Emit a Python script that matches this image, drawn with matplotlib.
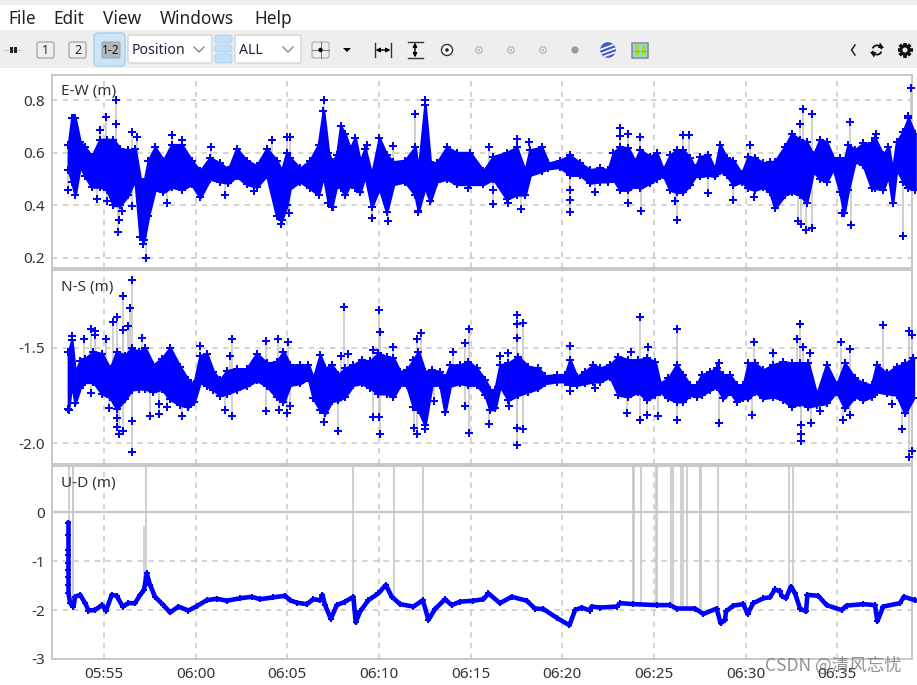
import numpy as np
import matplotlib
matplotlib.use("Agg")
import matplotlib.pyplot as plt
from matplotlib.patches import Rectangle, FancyBboxPatch, Circle, Wedge, Polygon

# ---- data (time in minutes after 05:00) ----
tick_minutes = [55, 60, 65, 70, 75, 80, 85, 90, 95]
tick_labels = ["05:55", "06:00", "06:05", "06:10", "06:15", "06:20", "06:25", "06:30", "06:35"]

ew_t = [53.06,53.24,53.42,53.69,53.97,54.33,54.78,55.15,55.51,55.88,56.33,56.69,56.97,57.18,57.42,57.78,58.24,58.69,59.24,59.78,60.24,60.78,61.33,61.78,62.24,62.78,63.33,63.88,64.42,64.69,64.97,
        65.15,65.7,66.24,66.7,66.97,67.24,67.42,67.7,67.91,68.15,68.42,68.7,68.97,69.24,69.6,70.02,70.42,70.79,71.42,71.97,72.15,72.51,72.79,73.15,73.7,74.24,74.97,75.7,76.24,76.97,77.51,77.97,78.24,78.88,79.24,79.88,80.42,80.97,81.51,
        82.06,82.51,82.79,83.15,83.6,83.97,84.24,84.79,85.15,85.51,85.88,86.24,86.6,86.97,87.24,87.51,87.97,88.33,88.6,88.97,89.33,89.79,90.15,90.51,90.97,91.33,91.6,92.15,92.51,92.97,93.33,93.7,94.06,94.42,94.79,95.15,95.37,95.6,95.97,96.42,96.88,97.06,97.51,97.79,98.02,98.24,98.6,98.88,99.24]
ew_up = [.63,.73,.73,.64,.62,.585,.65,.65,.65,.615,.61,.615,.50,.485,.57,.62,.57,.63,.63,.57,.53,.58,.56,.535,.615,.57,.55,.615,.57,.53,.60,
         .58,.54,.57,.63,.76,.60,.565,.59,.70,.67,.615,.655,.565,.615,.515,.655,.59,.565,.57,.62,.53,.78,.565,.56,.62,.60,.60,.53,.585,.60,.62,.53,.61,.62,.56,.57,.59,.56,.535,
         .54,.535,.60,.623,.617,.566,.61,.585,.60,.535,.59,.61,.61,.58,.54,.585,.59,.535,.63,.58,.57,.52,.585,.58,.56,.566,.566,.623,.67,.65,.64,.59,.65,.64,.58,.58,.566,.63,.61,.635,.635,.655,.59,.623,.53,.64,.68,.73,.67]
ew_lo = [.535,.49,.44,.55,.51,.47,.47,.46,.40,.40,.44,.50,.28,.27,.36,.46,.45,.47,.46,.48,.43,.50,.49,.485,.51,.48,.47,.515,.36,.345,.40,
         .465,.49,.465,.44,.515,.41,.395,.48,.465,.44,.48,.465,.45,.515,.395,.465,.375,.48,.49,.44,.38,.47,.415,.49,.50,.48,.48,.48,.50,.425,.44,.44,.515,.53,.54,.545,.515,.515,.485,
         .49,.49,.50,.458,.458,.477,.465,.485,.50,.515,.458,.45,.45,.477,.51,.51,.515,.51,.53,.515,.477,.49,.465,.458,.47,.45,.39,.44,.45,.44,.41,.53,.50,.49,.54,.45,.37,.458,.566,.553,.465,.465,.46,.515,.41,.54,.49,.465,.46]

ew_out_t = [53.06,53.37,55.11,55.66,55.66,56.51,56.78,54.78,58.69,59.24,60.82,64.15,64.97,65.15,54.6,55.15,55.78,55.82,55.97,56.51,57.28,57.11,61.6,63.2,64.64,65.11,58.42,
            67.0,69.37,70.75,71.97,72.51,69.6,70.51,72.15,76.2,76.2,77.75,77.02,78.2,80.42,80.42,80.42,77.51,76.0,81.79,74.88,67.51,
            83.15,83.15,83.6,83.6,84.24,84.3,86.28,86.15,86.6,86.91,87.97,89.33,90.24,90.46,93.11,93.61,92.97,92.88,93.0,93.3,93.61,95.7,95.73,97.11,98.57,99.05,98.88,95.24,91.6]
ew_out_v = [.459,.73,.734,.80,.71,.68,.66,.686,.667,.65,.623,.65,.66,.66,.424,.417,.30,.345,.38,.396,.20,.254,.44,.455,.33,.37,.408,
            .80,.63,.625,.745,.80,.353,.34,.373,.46,.405,.385,.41,.64,.458,.42,.373,.652,.62,.452,.465,.395,
            .695,.665,.67,.41,.66,.38,.343,.417,.667,.667,.445,.42,.63,.433,.767,.747,.71,.34,.33,.305,.315,.718,.325,.67,.284,.847,.74,.37,.39]

ns_t = [53.06,53.24,53.42,53.69,53.97,54.42,54.88,55.33,55.69,56.15,56.51,56.88,57.24,57.69,58.15,58.6,59.15,59.6,59.91,60.24,60.6,60.97,61.33,61.7,62.24,62.78,63.33,63.88,64.42,64.79,
        65.15,65.7,66.15,66.42,66.79,67.06,67.42,67.79,68.15,68.6,69.06,69.51,69.97,70.42,70.79,71.15,71.51,71.88,72.15,72.51,72.88,73.33,73.6,73.88,74.42,74.88,75.33,75.79,76.06,76.33,76.6,77.06,77.6,78.15,78.7,79.06,79.7,80.15,80.42,80.79,81.24,81.7,
        82.06,82.6,83.06,83.6,84.15,84.6,85.06,85.33,85.79,86.24,86.6,86.97,87.33,87.6,88.06,88.42,88.79,89.15,89.51,89.88,90.15,90.51,90.97,91.51,92.06,92.51,92.97,93.42,93.88,94.42,94.97,95.42,95.97,96.42,96.88,97.15,97.7,98.24,98.7,99.15]
ns_up = [-1.52,-1.46,-1.63,-1.57,-1.556,-1.52,-1.53,-1.61,-1.52,-1.54,-1.50,-1.52,-1.50,-1.59,-1.556,-1.50,-1.60,-1.67,-1.69,-1.54,-1.53,-1.627,-1.67,-1.62,-1.61,-1.61,-1.53,-1.58,-1.574,-1.52,
         -1.59,-1.59,-1.59,-1.66,-1.537,-1.607,-1.59,-1.64,-1.607,-1.59,-1.563,-1.57,-1.528,-1.546,-1.554,-1.625,-1.616,-1.563,-1.52,-1.625,-1.616,-1.625,-1.66,-1.59,-1.59,-1.572,-1.607,-1.668,-1.72,-1.72,-1.59,-1.58,-1.546,-1.598,-1.607,-1.647,-1.642,-1.642,-1.563,-1.651,-1.625,-1.589,
         -1.607,-1.589,-1.546,-1.563,-1.563,-1.554,-1.572,-1.686,-1.66,-1.589,-1.642,-1.695,-1.695,-1.642,-1.625,-1.607,-1.642,-1.642,-1.695,-1.695,-1.581,-1.581,-1.616,-1.589,-1.572,-1.581,-1.581,-1.581,-1.747,-1.589,-1.695,-1.581,-1.66,-1.686,-1.695,-1.589,-1.633,-1.598,-1.581,-1.554]
ns_lo = [-1.82,-1.68,-1.79,-1.71,-1.68,-1.68,-1.74,-1.76,-1.82,-1.77,-1.72,-1.715,-1.715,-1.73,-1.715,-1.77,-1.80,-1.81,-1.785,-1.68,-1.70,-1.72,-1.75,-1.74,-1.72,-1.70,-1.67,-1.70,-1.76,-1.785,
         -1.695,-1.686,-1.66,-1.765,-1.826,-1.844,-1.78,-1.774,-1.756,-1.695,-1.686,-1.71,-1.74,-1.74,-1.756,-1.695,-1.695,-1.81,-1.826,-1.905,-1.695,-1.695,-1.835,-1.70,-1.686,-1.695,-1.695,-1.747,-1.826,-1.818,-1.70,-1.774,-1.747,-1.73,-1.712,-1.686,-1.677,-1.677,-1.695,-1.695,-1.686,-1.677,
         -1.677,-1.651,-1.747,-1.756,-1.73,-1.774,-1.747,-1.73,-1.765,-1.782,-1.782,-1.747,-1.756,-1.747,-1.721,-1.704,-1.765,-1.73,-1.782,-1.765,-1.765,-1.73,-1.765,-1.756,-1.774,-1.809,-1.791,-1.809,-1.8,-1.791,-1.73,-1.818,-1.756,-1.774,-1.756,-1.73,-1.739,-1.747,-1.844,-1.765]

ns_out_t = [56.51,56.06,56.42,55.73,55.51,56.29,56.06,54.28,54.53,54.53,53.93,55.13,57.06,53.24,60.24,61.97,63.82,64.51,65.06,61.88,
            53.09,56.51,55.82,56.06,55.69,56.51,55.73,54.28,55.28,57.51,58.02,58.02,59.24,61.6,61.98,63.82,64.57,65.0,58.42,
            68.1,70.0,70.06,72.28,72.06,69.7,70.75,74.02,74.93,74.7,77.51,77.51,77.51,77.84,80.42,77.06,76.6,68.3,67.93,
            67.79,67.02,69.7,70.06,70.0,71.91,72.06,72.51,73.02,74.7,74.93,76.0,77.51,77.51,77.84,77.11,80.42,81.79,65.15,
            84.22,86.28,84.7,83.77,90.46,92.97,92.82,93.15,97.48,95.19,95.7,98.93,99.06,93.51,91.51,88.57,
            83.55,84.22,84.64,85.24,86.28,88.57,90.33,93.0,93.0,93.0,93.57,95.33,95.7,98.55,98.91,99.06,97.97,94.06]
ns_out_v = [-1.144,-1.225,-1.292,-1.336,-1.366,-1.386,-1.403,-1.40,-1.41,-1.433,-1.454,-1.454,-1.445,-1.438,-1.49,-1.454,-1.463,-1.454,-1.468,-1.54,
            -1.824,-2.046,-1.95,-1.935,-1.868,-1.882,-1.914,-1.736,-1.815,-1.86,-1.847,-1.794,-1.856,-1.824,-1.86,-1.833,-1.824,-1.842,-1.81,
            -1.284,-1.298,-1.418,-1.423,-1.454,-1.51,-1.496,-1.52,-1.40,-1.475,-1.328,-1.372,-1.446,-1.37,-1.49,-1.528,-1.54,-1.53,-1.54,
            -1.939,-1.888,-1.865,-1.953,-1.865,-1.923,-1.953,-1.928,-1.777,-1.805,-1.946,-1.902,-2.01,-1.923,-1.925,-1.805,-1.726,-1.712,-1.805,
            -1.335,-1.40,-1.497,-1.52,-1.467,-1.372,-1.453,-1.497,-1.379,-1.467,-1.505,-1.409,-1.432,-1.528,-1.528,-1.58,
            -1.844,-1.879,-1.853,-1.856,-1.879,-1.895,-1.851,-1.988,-1.95,-1.906,-1.896,-1.879,-1.853,-1.925,-2.072,-2.04,-1.795,-1.83]

ud_t = [53.06,53.06,53.06,53.06,53.06,53.06,53.06,53.06,53.06,53.15,53.33,53.42,53.69,53.97,54.15,54.51,54.88,55.11,55.42,55.69,56.02,56.33,56.69,56.97,57.18,57.33,57.51,57.78,58.24,58.6,59.06,59.6,60.06,60.6,61.15,61.7,62.42,63.06,63.51,64.24,64.88,
        65.15,65.51,66.06,66.42,66.79,66.91,67.06,67.37,67.7,68.15,68.6,68.73,68.97,69.42,69.97,70.37,70.7,71.15,71.88,72.39,72.7,73.06,73.6,73.97,74.42,75.15,75.7,75.97,76.6,77.24,78.06,78.51,78.97,79.7,80.39,80.7,81.06,81.51,81.6,
        82.06,82.97,83.15,83.88,85.15,85.88,86.24,87.24,87.7,88.42,88.64,88.88,88.93,89.33,89.88,90.11,90.42,90.97,91.33,91.6,91.88,91.97,92.2,92.48,92.7,92.97,93.3,93.37,93.97,94.42,95.24,95.51,96.42,97.06,97.19,97.51,98.42,98.64,99.24]
ud_v = [-.225,-.464,-.785,-.874,-1.044,-1.18,-1.33,-1.49,-1.66,-1.86,-1.93,-1.73,-1.69,-1.86,-2.01,-2.0,-1.90,-2.01,-1.69,-1.71,-1.93,-1.86,-1.86,-1.69,-1.59,-1.25,-1.49,-1.73,-1.90,-2.05,-1.93,-2.01,-1.92,-1.80,-1.77,-1.81,-1.76,-1.73,-1.78,-1.74,-1.71,
        -1.80,-1.85,-1.88,-1.78,-1.80,-1.69,-1.90,-2.18,-1.90,-1.83,-1.73,-2.25,-2.03,-1.80,-1.66,-1.49,-1.73,-1.88,-1.93,-1.80,-2.20,-1.98,-1.78,-1.90,-1.83,-1.81,-1.78,-1.66,-1.86,-1.73,-1.81,-1.97,-1.98,-2.16,-2.31,-2.0,-1.95,-2.01,-1.93,
        -1.95,-1.93,-1.86,-1.88,-1.90,-1.90,-1.97,-1.97,-2.08,-1.97,-2.27,-2.20,-2.03,-1.91,-1.88,-2.08,-1.86,-1.76,-1.74,-1.58,-1.62,-1.71,-1.76,-1.52,-1.66,-1.97,-2.03,-1.69,-1.71,-1.90,-2.0,-1.91,-1.88,-1.90,-2.23,-1.93,-1.86,-1.73,-1.80]
# U-D outliers: nearly all lie above the top of the plot
ud_out_t = [53.09,53.28,53.32,57.28,57.2,68.6,70.82,72.42,83.84,83.92,84.3,85.11,85.19,85.91,86.06,86.48,86.6,86.79,87.51,87.59,88.48,92.39,92.57]
ud_out_v = [1.2,1.2,1.2,1.2,-.29,1.2,1.2,1.2,1.2,1.2,1.2,1.2,1.2,1.2,1.2,1.2,1.2,1.2,1.2,1.2,1.2,1.2,1.2]

ew_ticks = [0.2, 0.4, 0.6, 0.8]
ns_ticks = [-2.0, -1.5]
ud_ticks = [-3, -2, -1, 0]
panel_titles = ["E-W (m)", "N-S (m)", "U-D (m)"]
menu_items = ["File", "Edit", "View", "Windows", "Help"]

# ---- style ----
W, H = 917, 685
BLUE = "#0000FF"
GRAY = "#C8C8C8"
TXT = "#333333"
plt.rcParams["font.family"] = ["Noto Sans", "DejaVu Sans"]

fig = plt.figure(figsize=(W / 100, H / 100), dpi=100, facecolor="white")


def make_axes(x0, y0, x1, y1):
    return fig.add_axes([x0 / W, 1 - y1 / H, (x1 - x0) / W, (y1 - y0) / H])


xlim = (52.16, 99.08)
a1 = make_axes(52, 75, 912, 268)
a2 = make_axes(52, 270, 912, 464)
a3 = make_axes(52, 466, 912, 659)
a1.set_ylim(0.162, 0.895)
a2.set_ylim(-2.11, -1.09)
a3.set_ylim(-3, 0.94)

for ax, ticks in zip((a1, a2, a3), (ew_ticks, ns_ticks, ud_ticks)):
    ax.set_xlim(*xlim)
    ax.set_xticks(tick_minutes)
    ax.set_yticks(ticks)
    ax.grid(True, color=GRAY, lw=1.1, ls=(0, (3.5, 3.5)), zorder=1)
    ax.set_axisbelow(True)
    ax.tick_params(length=0, labelsize=11, labelcolor=TXT, pad=5)
    for s in ax.spines.values():
        s.set_color(GRAY)
        s.set_linewidth(1.4)
        s.set_zorder(1.5)

a1.set_xticklabels([])
a2.set_xticklabels([])
a3.set_xticklabels(tick_labels)
a1.set_yticklabels(["0.2", "0.4", "0.6", "0.8"])
a2.set_yticklabels(["-2.0", "-1.5"])
a3.set_yticklabels(["-3", "-2", "-1", "0"])
a3.tick_params(axis="x", pad=6)
a3.axhline(0, color=GRAY, lw=1.6, zorder=1.2)


def stems(ax, t_out, v_out, t_ref, v_ref):
    """Grey stems from each outlier back to the closest sample of the band."""
    t_ref = np.asarray(t_ref)
    v_ref = np.asarray(v_ref)
    for t, v in zip(t_out, v_out):
        base = v_ref[np.argmin(np.abs(t_ref - t))]
        ax.plot([t, t], [base, v], color=GRAY, lw=1.2, zorder=2, solid_capstyle="butt")


def band(ax, t, up, lo, t_out, v_out):
    t, up, lo = map(np.asarray, (t, up, lo))
    stems(ax, t_out, v_out, t, (up + lo) / 2)
    ax.fill_between(t, lo, up, color=BLUE, lw=2.0, zorder=3, clip_on=False)
    kw = dict(ls="none", marker="P", ms=5.5, mew=0, color=BLUE, zorder=4, clip_on=False)
    ax.plot(t, up, **kw)
    ax.plot(t, lo, **kw)
    ax.plot(t_out, v_out, **kw)


band(a1, ew_t, ew_up, ew_lo, ew_out_t, ew_out_v)
band(a2, ns_t, ns_up, ns_lo, ns_out_t, ns_out_v)

stems(a3, ud_out_t, ud_out_v, ud_t[9:], ud_v[9:])
a3.plot(ud_t, ud_v, color=BLUE, lw=3.3, zorder=3, clip_on=False, marker="P", ms=5, mew=0,
        solid_joinstyle="round")

for ax, title in zip((a1, a2, a3), panel_titles):
    ax.text(9 / 860, 1 - 17 / ax.bbox.height, title, transform=ax.transAxes, fontsize=11,
            color=TXT, va="center", ha="left", zorder=6)

# ---- window chrome, in pixel coordinates ----
ui = fig.add_axes([0, 0, 1, 1], zorder=10)
ui.set_xlim(0, W)
ui.set_ylim(H, 0)
ui.axis("off")
ui.patch.set_alpha(0)


def rect(x0, y0, x1, y1, fc, ec="none", lw=0.8, round_=0, z=1):
    if round_:
        p = FancyBboxPatch((x0, y0), x1 - x0, y1 - y0, boxstyle=f"round,pad=0,rounding_size={round_}",
                           fc=fc, ec=ec, lw=lw, zorder=z)
    else:
        p = Rectangle((x0, y0), x1 - x0, y1 - y0, fc=fc, ec=ec, lw=lw, zorder=z)
    ui.add_patch(p)


rect(0, 0, W, 5, "#F0F0F0")
rect(0, 30, W, 68, "#EEEEEE")

for label, x in zip(menu_items, (8, 53, 103, 160, 254)):
    ui.text(x, 19, label, fontsize=12.4, color="#222222", va="center", ha="left")

# run-bar icon
ui.plot([4, 22], [50, 50], color="#888888", lw=0.8, ls=":")
rect(10, 47, 13, 53, "#222222", z=2)
rect(14, 47, 17, 53, "#222222", z=2)

# 1 / 2 / 1-2 buttons
for x0, t in ((37, "1"), (69, "2")):
    rect(x0, 42, x0 + 17, 58, "#EFEFEF", "#9A9A9A", 0.8, 2, 2)
    ui.text(x0 + 8.5, 50, t, fontsize=9, color="#222222", ha="center", va="center", zorder=3)
rect(94, 33, 125, 66, "#CCE4F7", "#99CCEE", 0.8, 3, 2)
rect(102, 42, 120, 58, "#B4B8BC", "#9A9A9A", 0.6, 1, 3)
ui.text(111, 50, "1-2", fontsize=8.6, color="#111111", ha="center", va="center", zorder=4)


def combo(x0, x1, label):
    rect(x0, 35, x1, 63, "white", "#D4D4D4", 1, 2, 2)
    ui.text(x0 + 4, 50, label, fontsize=10.2, color="#222244", ha="left", va="center", zorder=3)
    c = x1 - 13
    ui.plot([c - 5, c, c + 5], [47, 52, 47], color="#888888", lw=1, zorder=3)


combo(128, 212, "Position")
combo(235, 301, "ALL")
for y0, y1 in ((35, 43), (45, 52), (54, 63)):
    rect(215, y0, 232, y1, "#C4E0F5", "#A6D0EE", 0.6, 2, 2)

# plot-type button
rect(312, 42, 329, 58, "#EFEFEF", "#ABABAB", 0.8, 2, 2)
ui.plot([312, 329], [50, 50], color="#777777", lw=0.7, zorder=3)
ui.plot([320.5, 320.5], [42, 58], color="#777777", lw=0.7, zorder=3)
ui.add_patch(Circle((320.5, 50), 2.2, fc="black", zorder=4))
ui.add_patch(Polygon([[343, 48], [351, 48], [347, 52]], fc="black", zorder=3))

# fit-horizontal icon
ui.plot([375, 375], [43, 57], color="#333333", lw=1)
ui.plot([391, 391], [43, 57], color="#333333", lw=1)
ui.annotate("", xy=(375.5, 50), xytext=(390.5, 50), arrowprops=dict(arrowstyle="<|-|>", color="black", lw=1, mutation_scale=6, shrinkA=0, shrinkB=0))
# fit-vertical icon
ui.plot([408, 423], [42, 42], color="#333333", lw=1)
ui.plot([408, 423], [58, 58], color="#333333", lw=1)
ui.annotate("", xy=(415, 42.5), xytext=(415, 57.5), arrowprops=dict(arrowstyle="<|-|>", color="black", lw=1, mutation_scale=6, shrinkA=0, shrinkB=0))

# target and status icons
ui.add_patch(Circle((447, 50), 5.5, fc="white", ec="#333333", lw=1, zorder=2))
ui.add_patch(Circle((447, 50), 1.8, fc="#222222", zorder=3))
for x in (479, 511, 543):
    ui.add_patch(Circle((x, 50), 3.2, fc="#EEEEEE", ec="#B5B5B5", lw=0.9, zorder=2))
    ui.add_patch(Circle((x, 50), 0.9, fc="#999999", zorder=3))
ui.add_patch(Circle((575, 50), 3.6, fc="#9A9A9A", zorder=2))

# globe
globe = Circle((608, 50), 7.8, fc="#3F55C8", zorder=2)
ui.add_patch(globe)
for dy in (-3.2, 1.0, 5.0):
    ln, = ui.plot([600, 616], [50 + dy + 3, 50 + dy - 3], color="white", lw=1.2, zorder=3)
    ln.set_clip_path(globe)

# map
rect(632, 43, 648, 58, "#8FD8E8", "#8E8E8E", 1.2, 0, 2)
rect(634.5, 45, 638.5, 55, "#A8D820", z=3)
rect(641.5, 45, 645.5, 55, "#A8D820", z=3)
ui.plot([632, 648], [50.5, 50.5], color="#666666", lw=0.6, ls=":", zorder=4)

# right-hand icons
ui.plot([855, 851.5, 855], [45, 50, 55], color="#222222", lw=1.1)
ui.add_patch(Wedge((877, 50), 5.5, 20, 170, width=1.8, fc="#111111", zorder=2))
ui.add_patch(Wedge((877, 50), 5.5, 200, 350, width=1.8, fc="#111111", zorder=2))
ui.add_patch(Polygon([[880, 42.5], [884, 48], [878, 48]], fc="#111111", zorder=2))
ui.add_patch(Polygon([[874, 57.5], [870, 52], [876, 52]], fc="#111111", zorder=2))
for ang in np.arange(0, 360, 45):
    ca, sa = np.cos(np.radians(ang)), np.sin(np.radians(ang))
    ui.plot([905, 905 + 7.5 * ca], [50, 50 + 7.5 * sa], color="#111111", lw=2.6, zorder=2, solid_capstyle="butt")
ui.add_patch(Circle((905, 50), 5.6, fc="#111111", zorder=3))
ui.add_patch(Circle((905, 50), 2.5, fc="#EEEEEE", zorder=4))

# watermark
ui.text(765, 666, "CSDN @清风忘忧", fontsize=12.6, color="#6E6E6E", alpha=0.75, ha="left", va="center",
        family=["Noto Sans CJK SC", "DejaVu Sans"], zorder=20)

fig.savefig("out.png", dpi=100, facecolor="white")
